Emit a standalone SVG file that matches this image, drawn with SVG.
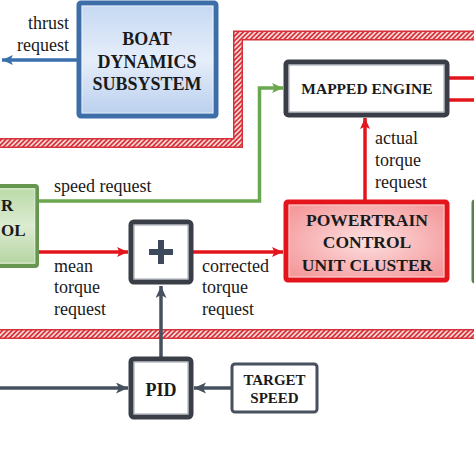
<svg xmlns="http://www.w3.org/2000/svg" width="474" height="474" viewBox="0 0 474 474">
<style>
  .lbl{font-family:"Liberation Serif","Times New Roman",serif;font-size:18px;fill:#1a1a1a}
  .ttl{font-family:"Liberation Serif","Times New Roman",serif;font-weight:bold;fill:#1a1a1a;text-anchor:middle}
  .red{stroke:#e3141b;stroke-width:3.5;fill:none}
  .grn{stroke:#6aa84f;stroke-width:3.5;fill:none}
  .gry{stroke:#46505e;stroke-width:3.5;fill:none}
  .blu{stroke:#3a6fae;stroke-width:3.5;fill:none}
  .bandO{stroke:#d6313a;stroke-width:10;fill:none}
  .bandI{stroke:url(#hatch);stroke-width:7;fill:none}
  .inner{fill:none;stroke:#ffffff;stroke-opacity:0.55;stroke-width:1}
</style>
<defs>
  <pattern id="hatch" width="3.4" height="3.4" patternUnits="userSpaceOnUse" patternTransform="rotate(45)">
    <rect width="3.4" height="3.4" fill="#f7d6d6"/>
    <rect width="1.7" height="3.4" fill="#d8333b"/>
  </pattern>
  <linearGradient id="gBlue" x1="0" y1="0" x2="0" y2="1">
    <stop offset="0" stop-color="#c4d8f2"/>
    <stop offset="0.5" stop-color="#e6eefa"/>
    <stop offset="1" stop-color="#b9cfee"/>
  </linearGradient>
  <radialGradient id="gRed" cx="0.5" cy="0.5" r="0.6">
    <stop offset="0" stop-color="#fde0e0"/>
    <stop offset="1" stop-color="#f49a9c"/>
  </radialGradient>
  <linearGradient id="gGreen" x1="0" y1="0" x2="0" y2="1">
    <stop offset="0" stop-color="#b9d9a6"/>
    <stop offset="0.5" stop-color="#dcecd1"/>
    <stop offset="1" stop-color="#b3d39f"/>
  </linearGradient>
  <marker id="aRed" markerUnits="userSpaceOnUse" markerWidth="12" markerHeight="12" refX="11" refY="5" orient="auto">
    <path d="M0,0 L11,5 L0,10 L2.5,5 z" fill="#e3141b"/>
  </marker>
  <marker id="aGrn" markerUnits="userSpaceOnUse" markerWidth="12" markerHeight="12" refX="11" refY="5" orient="auto">
    <path d="M0,0 L11,5 L0,10 L2.5,5 z" fill="#6aa84f"/>
  </marker>
  <marker id="aGry" markerUnits="userSpaceOnUse" markerWidth="13" markerHeight="12" refX="12" refY="5.5" orient="auto">
    <path d="M0,0 L12,5.5 L0,11 L3,5.5 z" fill="#46505e"/>
  </marker>
  <marker id="aBlu" markerUnits="userSpaceOnUse" markerWidth="12" markerHeight="12" refX="11" refY="5" orient="auto">
    <path d="M0,0 L11,5 L0,10 L2.5,5 z" fill="#3a6fae"/>
  </marker>
</defs>
<rect width="474" height="474" fill="#ffffff"/>

<g id="bands">
  <path class="bandO" d="M-5,143 H238 V35.5 H480"/>
  <path class="bandI" d="M-5,143 H238 V35.5 H480"/>
  <path class="bandO" d="M-5,334 H480"/>
  <path class="bandI" d="M-5,334 H480"/>
</g>

<g id="connectors">
  <path class="blu" d="M77,60 H2" marker-end="url(#aBlu)"/>
  <path class="grn" d="M38,201 H259.5 V88 H283" marker-end="url(#aGrn)"/>
  <path class="red" d="M38,252 H128" marker-end="url(#aRed)"/>
  <path class="red" d="M193,252 H283" marker-end="url(#aRed)"/>
  <path class="red" d="M365,200 V118" marker-end="url(#aRed)"/>
  <path class="red" d="M449,78 H480 M449,100 H480"/>
  <path class="gry" d="M161,357 V286" marker-end="url(#aGry)"/>
  <path class="gry" d="M-2,388 H128" marker-end="url(#aGry)"/>
  <path class="gry" d="M231,388 H194" marker-end="url(#aGry)"/>
</g>

<g id="thrust-label">
  <text class="lbl" x="69" y="29" text-anchor="end">thrust</text>
  <text class="lbl" x="69" y="51" text-anchor="end">request</text>
</g>
<g id="speed-label"><text class="lbl" x="54" y="192">speed request</text></g>
<g id="mean-label">
  <text class="lbl" x="54" y="272">mean</text>
  <text class="lbl" x="54" y="293">torque</text>
  <text class="lbl" x="54" y="315">request</text>
</g>
<g id="corrected-label">
  <text class="lbl" x="202" y="272">corrected</text>
  <text class="lbl" x="202" y="293">torque</text>
  <text class="lbl" x="202" y="315">request</text>
</g>
<g id="actual-label">
  <text class="lbl" x="375" y="144">actual</text>
  <text class="lbl" x="375" y="166">torque</text>
  <text class="lbl" x="375" y="188">request</text>
</g>

<g id="boat-dynamics">
  <rect x="79" y="3" width="137" height="113" rx="2" fill="url(#gBlue)" stroke="#3d6ea8" stroke-width="5"/>
  <rect x="82" y="6" width="131" height="107" class="inner"/>
  <text class="ttl" x="147" y="45" font-size="18">BOAT</text>
  <text class="ttl" x="147" y="68" font-size="18">DYNAMICS</text>
  <text class="ttl" x="147" y="90" font-size="18">SUBSYSTEM</text>
</g>

<g id="mapped-engine">
  <rect x="286" y="62" width="161" height="53" rx="2.5" fill="#ffffff" stroke="#3a3f47" stroke-width="5"/>
  <rect x="289" y="65" width="155" height="47" fill="none" stroke="#9aa0a8" stroke-width="1"/>
  <text class="ttl" x="367" y="94" font-size="15.5">MAPPED ENGINE</text>
</g>

<g id="driver-control">
  <rect x="-10" y="186" width="47" height="80" rx="2" fill="url(#gGreen)" stroke="#66964f" stroke-width="4"/>
  <rect x="-8" y="189" width="43" height="74" class="inner"/>
  <text class="ttl" x="1" y="211" font-size="17" style="text-anchor:start">R</text>
  <text class="ttl" x="1" y="236" font-size="17" style="text-anchor:start">OL</text>
</g>

<g id="sum">
  <rect x="131" y="222" width="60" height="60" rx="3" fill="#ffffff" stroke="#3a3f47" stroke-width="5"/>
  <rect x="134" y="225" width="54" height="54" fill="none" stroke="#9aa0a8" stroke-width="1"/>
  <path d="M149,252 H173 M161,240 V264" stroke="#3d4a5c" stroke-width="6" fill="none"/>
</g>

<g id="powertrain">
  <rect x="286" y="202" width="161" height="78" rx="2" fill="url(#gRed)" stroke="#e3141b" stroke-width="5"/>
  <rect x="289" y="205" width="155" height="72" class="inner"/>
  <text class="ttl" x="367" y="226" font-size="17.5">POWERTRAIN</text>
  <text class="ttl" x="367" y="248" font-size="17.5">CONTROL</text>
  <text class="ttl" x="367" y="271" font-size="17.5">UNIT CLUSTER</text>
</g>

<g id="right-block">
  <rect x="473" y="201" width="12" height="81" rx="2" fill="#c9e0bb" stroke="#5b7f52" stroke-width="3"/>
</g>

<g id="pid">
  <rect x="131" y="359" width="60" height="58" rx="3" fill="#ffffff" stroke="#3a3f47" stroke-width="5"/>
  <rect x="134" y="362" width="54" height="52" fill="none" stroke="#9aa0a8" stroke-width="1"/>
  <text class="ttl" x="161" y="396" font-size="18">PID</text>
</g>

<g id="target-speed">
  <rect x="232" y="364" width="85" height="48" rx="3" fill="#ffffff" stroke="#46505e" stroke-width="3"/>
  <text class="ttl" x="274.5" y="385" font-size="15">TARGET</text>
  <text class="ttl" x="274.5" y="403" font-size="15">SPEED</text>
</g>
</svg>
